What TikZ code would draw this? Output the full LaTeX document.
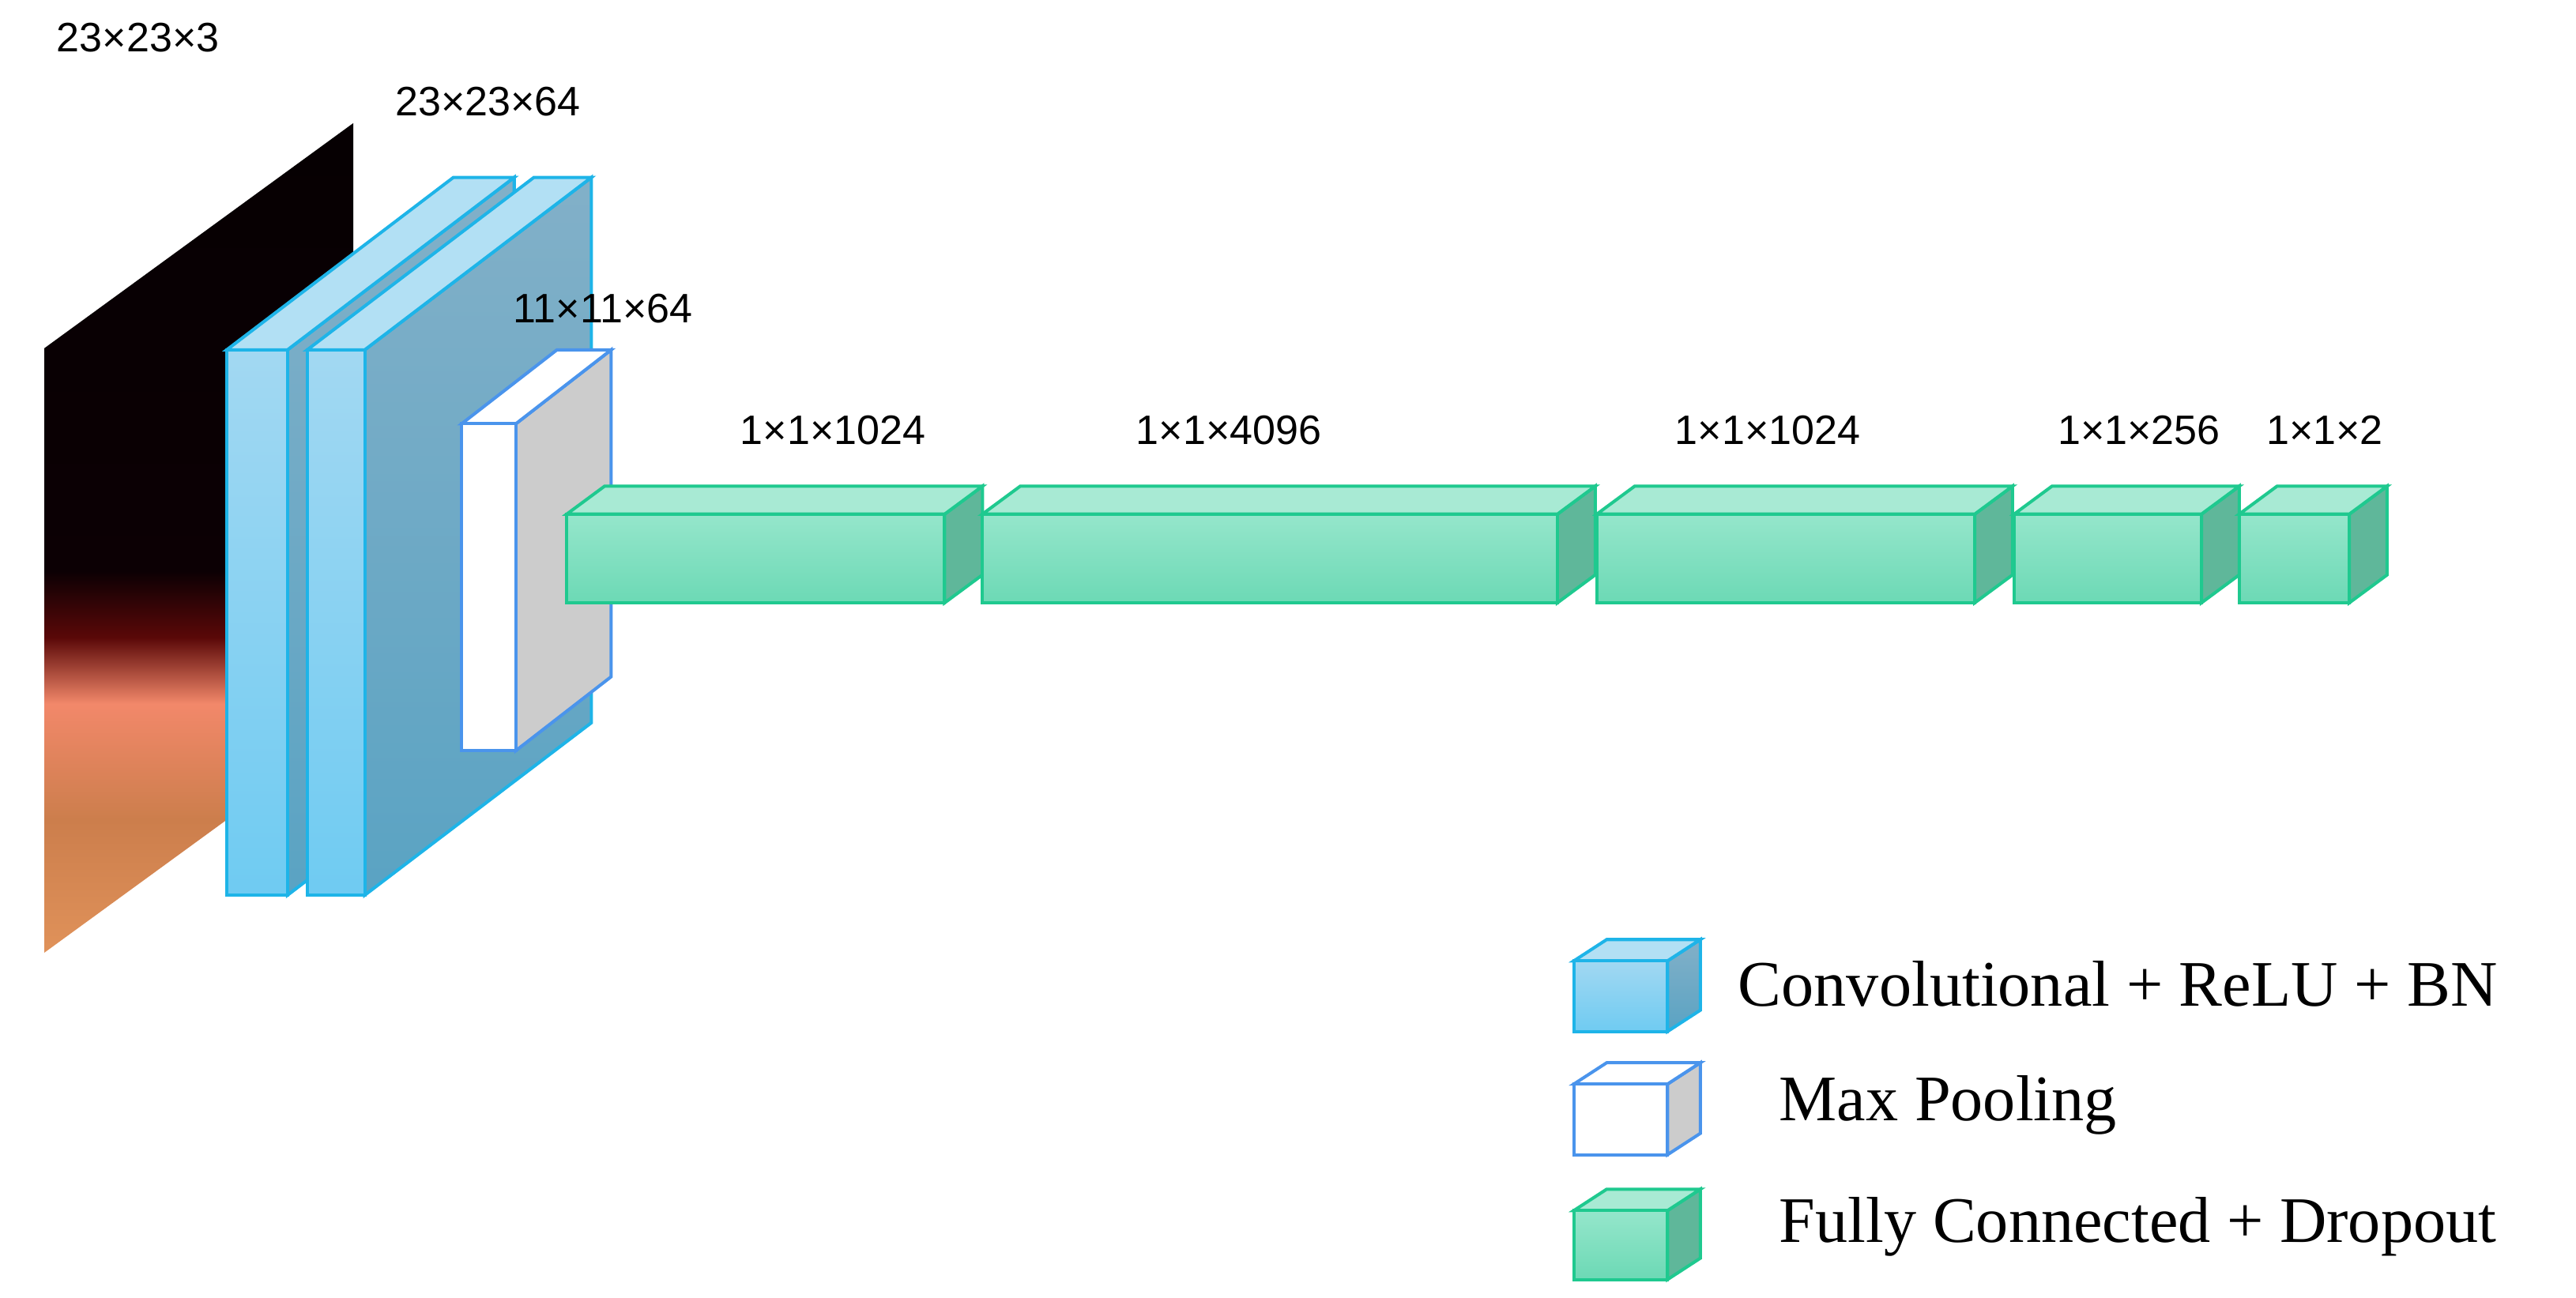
\documentclass[tikz,border=0pt]{standalone}
\usepackage{fontspec}
\setmainfont{Liberation Serif}
\newfontfamily\lab{Liberation Sans}
\definecolor{cvB}{HTML}{1EB4E8}
\definecolor{cvT}{HTML}{B2E0F4}
\definecolor{cvF1}{HTML}{A2D8F2}
\definecolor{cvF2}{HTML}{6FCBF2}
\definecolor{cvS1}{HTML}{82B0C8}
\definecolor{cvS2}{HTML}{5AA3C3}
\definecolor{plB}{HTML}{4A94EC}
\definecolor{plS}{HTML}{CCCCCC}
\definecolor{fcB}{HTML}{1FC98F}
\definecolor{fcT}{HTML}{A8EAD4}
\definecolor{fcF1}{HTML}{95E6CB}
\definecolor{fcF2}{HTML}{6CD9B5}
\definecolor{fcS}{HTML}{5FB79A}
\definecolor{in1}{HTML}{E0925A}
\definecolor{in2}{HTML}{CC7E4C}
\definecolor{in3}{HTML}{F2886A}
\definecolor{in4}{HTML}{5A0808}
\definecolor{in5}{HTML}{0C0004}
\pgfdeclareverticalshading{inp}{100bp}{color(0bp)=(in1); color(25bp)=(in1); color(33bp)=(in2); color(40bp)=(in3); color(44bp)=(in4); color(48bp)=(in5); color(100bp)=(black)}
\tikzset{
  lbl/.style={font=\lab\fontsize{28.5}{32}\selectfont},
  leg/.style={font=\fontsize{45}{50}\selectfont, anchor=west},
  edge/.style={line width=2.2pt, line join=miter}
}
\newcommand\blk[9]{%
  \shade[top color=#7, bottom color=#8, draw=#9, edge] (#1,#2) rectangle ++(#3,#4);
}
\newcommand\cubeTop[7]{%
  \fill[#6] (#1,#2) -- ++(#4,#5) -- ++(#3,0) -- ++(-#4,-#5) -- cycle;
  \draw[#7, edge] (#1,#2) -- ++(#4,#5) -- ++(#3,0) -- ++(-#4,-#5) -- cycle;
}
\newcommand\sideborder{black}
\newcommand\cubeSide[8]{%
  \shade[top color=#7, bottom color=#8] (#1+#3,#2) -- ++(#5,#6) -- ++(0,#4) -- ++(-#5,-#6) -- cycle;
  \draw[\sideborder, edge] (#1+#3,#2) -- ++(#5,#6) -- ++(0,#4) -- ++(-#5,-#6) -- cycle;
}
\begin{document}
\begin{tikzpicture}[x=0.04cm, y=-0.04cm]
\useasboundingbox (0,0) rectangle (1568,790);
% input image
\shade[shading=inp] (27,212) -- (215,75) -- (215,443) -- (27,580) -- cycle;
% conv layer 1
\renewcommand\sideborder{cvB}
\cubeSide{138}{213}{37}{332}{138}{-105}{cvS1}{cvS2}
\cubeTop{138}{213}{37}{138}{-105}{cvT}{cvB}
\blk{138}{213}{37}{332}{}{}{cvF1}{cvF2}{cvB}
% conv layer 2
\cubeSide{187}{213}{35}{332}{138}{-105}{cvS1}{cvS2}
\cubeTop{187}{213}{35}{138}{-105}{cvT}{cvB}
\blk{187}{213}{35}{332}{}{}{cvF1}{cvF2}{cvB}
% pooling
\renewcommand\sideborder{plB}
\cubeSide{281}{258}{33}{199}{58}{-45}{plS}{plS}
\cubeTop{281}{258}{33}{58}{-45}{white}{plB}
\blk{281}{258}{33}{199}{}{}{white}{white}{plB}
% fully connected
\renewcommand\sideborder{fcB}
\foreach \xa/\wa in {345/230, 598/350, 972/230, 1226/114, 1363/67}{
  \cubeSide{\xa}{313}{\wa}{54}{23}{-17}{fcS}{fcS}
  \cubeTop{\xa}{313}{\wa}{23}{-17}{fcT}{fcB}
  \blk{\xa}{313}{\wa}{54}{}{}{fcF1}{fcF2}{fcB}
}
% labels
\node[lbl] (l0) at (84,23) {23×23×3};
\node[lbl] (l1) at (297,62) {23×23×64};
\node[lbl] (l2) at (367,188) {11×11×64};
\node[lbl] (l3) at (507,262) {1×1×1024};
\node[lbl] (l4) at (748,262) {1×1×4096};
\node[lbl] (l5) at (1076,262) {1×1×1024};
\node[lbl] (l6) at (1302,262) {1×1×256};
\node[lbl] (l7) at (1415,262) {1×1×2};
% legend
\renewcommand\sideborder{cvB}
\cubeSide{958}{585}{57}{43}{20}{-13}{cvS1}{cvS2}
\cubeTop{958}{585}{57}{20}{-13}{cvT}{cvB}
\blk{958}{585}{57}{43}{}{}{cvF1}{cvF2}{cvB}
\renewcommand\sideborder{plB}
\cubeSide{958}{660}{57}{43}{20}{-13}{plS}{plS}
\cubeTop{958}{660}{57}{20}{-13}{white}{plB}
\blk{958}{660}{57}{43}{}{}{white}{white}{plB}
\renewcommand\sideborder{fcB}
\cubeSide{958}{737}{57}{42}{20}{-13}{fcS}{fcS}
\cubeTop{958}{737}{57}{20}{-13}{fcT}{fcB}
\blk{958}{737}{57}{42}{}{}{fcF1}{fcF2}{fcB}
\node[leg] (g1) at (1055,599) {Convolutional + ReLU + BN};
\node[leg] (g2) at (1080,673) {Max Pooling};
\node[leg] (g3) at (1080,747) {Fully Connected + Dropout};
\end{tikzpicture}
\end{document}
